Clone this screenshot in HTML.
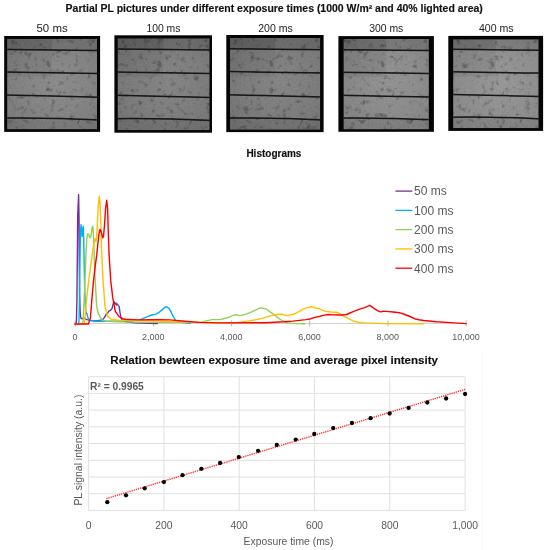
<!DOCTYPE html>
<html lang="en"><head><meta charset="utf-8"><title>PL exposure figure</title>
<style>html,body{margin:0;padding:0;background:#fff;}svg{display:block;}text{font-family:"Liberation Sans", sans-serif;}</style>
</head><body>
<svg width="548" height="550" viewBox="0 0 548 550">
<defs>
<radialGradient id="pg" cx="0.5" cy="0.5" r="0.75"><stop offset="0" stop-color="#979797"/><stop offset="0.55" stop-color="#8b8b8b"/><stop offset="1" stop-color="#7a7a7a"/></radialGradient>
<filter id="bl" x="-5%" y="-5%" width="110%" height="110%"><feGaussianBlur stdDeviation="0.7"/></filter>
<filter id="bl2" x="-5%" y="-20%" width="110%" height="140%"><feGaussianBlur stdDeviation="0.45"/></filter>
<filter id="grain" x="0" y="0" width="100%" height="100%"><feTurbulence type="fractalNoise" baseFrequency="0.16" numOctaves="3" seed="5" result="n"/><feColorMatrix type="matrix" values="0 0 0 0 0  0 0 0 0 0  0 0 0 0 0  3.4 0 0 0 -2.02"/><feGaussianBlur stdDeviation="0.4"/></filter>
<filter id="grain2" x="0" y="0" width="100%" height="100%"><feTurbulence type="fractalNoise" baseFrequency="0.5" numOctaves="2" seed="9" result="n"/><feColorMatrix type="matrix" values="0 0 0 0 0  0 0 0 0 0  0 0 0 0 0  1.2 0 0 0 -0.45"/></filter>
</defs>
<rect width="548" height="550" fill="#fff"/>
<text x="65.6" y="11.5" font-size="10.2" font-weight="bold" fill="#111" stroke="#111" stroke-width="0.15" textLength="417.2" lengthAdjust="spacingAndGlyphs">Partial PL pictures under different exposure times (1000 W/m² and 40% lighted area)</text>
<text x="36.5" y="31.5" font-size="11.2" fill="#222" textLength="31.2" lengthAdjust="spacingAndGlyphs">50 ms</text>
<radialGradient id="pg0" cx="0.56" cy="0.47" r="0.72"><stop offset="0" stop-color="#8e8e8e"/><stop offset="0.55" stop-color="#868686"/><stop offset="1" stop-color="#7c7c7c"/></radialGradient>
<g>
<rect x="4.2" y="36.0" width="95.9" height="95.9" fill="#050505"/>
<clipPath id="c0"><rect x="7.1" y="38.7" width="89.9" height="90.7"/></clipPath>
<g clip-path="url(#c0)">
<rect x="7.1" y="38.7" width="89.9" height="90.7" fill="url(#pg0)"/>
<rect x="7.1" y="38.7" width="89.9" height="11.4" fill="#000" opacity="0.12"/>
<rect x="7.1" y="38.7" width="44.9" height="11.4" fill="#000" opacity="0.045"/>
<rect x="7.1" y="118.3" width="89.9" height="14.4" fill="#000" opacity="0.06"/>
<rect x="7.1" y="38.7" width="44.9" height="38.1" fill="#000" opacity="0.05"/>
<g filter="url(#bl)" fill="#3c3c3c">
<ellipse cx="47.8" cy="89.5" rx="1.6" ry="2.1" opacity="0.30" transform="rotate(70 47.8 89.5)"/>
<ellipse cx="24.2" cy="111.6" rx="1.1" ry="2.5" opacity="0.21" transform="rotate(34 24.2 111.6)"/>
<ellipse cx="34.4" cy="46.9" rx="1.5" ry="2.7" opacity="0.16" transform="rotate(21 34.4 46.9)"/>
<ellipse cx="93.8" cy="98.0" rx="1.2" ry="1.3" opacity="0.15" transform="rotate(55 93.8 98.0)"/>
<ellipse cx="12.8" cy="41.9" rx="1.6" ry="2.5" opacity="0.38" transform="rotate(3 12.8 41.9)"/>
<ellipse cx="46.7" cy="115.1" rx="1.1" ry="2.6" opacity="0.30" transform="rotate(-59 46.7 115.1)"/>
<ellipse cx="48.2" cy="63.9" rx="1.7" ry="3.5" opacity="0.40" transform="rotate(-15 48.2 63.9)"/>
<ellipse cx="35.4" cy="59.5" rx="0.8" ry="1.1" opacity="0.38" transform="rotate(22 35.4 59.5)"/>
<ellipse cx="16.8" cy="65.1" rx="0.6" ry="0.9" opacity="0.36" transform="rotate(-26 16.8 65.1)"/>
<ellipse cx="26.0" cy="121.3" rx="1.1" ry="3.4" opacity="0.27" transform="rotate(-62 26.0 121.3)"/>
<ellipse cx="58.0" cy="56.7" rx="1.3" ry="1.8" opacity="0.24" transform="rotate(-77 58.0 56.7)"/>
<ellipse cx="93.8" cy="107.5" rx="0.6" ry="1.5" opacity="0.18" transform="rotate(-65 93.8 107.5)"/>
<ellipse cx="48.9" cy="82.9" rx="1.3" ry="1.4" opacity="0.30" transform="rotate(-47 48.9 82.9)"/>
<ellipse cx="44.8" cy="73.5" rx="1.0" ry="3.5" opacity="0.15" transform="rotate(71 44.8 73.5)"/>
<ellipse cx="34.4" cy="119.0" rx="0.8" ry="1.9" opacity="0.41" transform="rotate(67 34.4 119.0)"/>
<ellipse cx="16.1" cy="128.4" rx="0.8" ry="1.6" opacity="0.38" transform="rotate(4 16.1 128.4)"/>
<ellipse cx="81.7" cy="73.7" rx="0.6" ry="1.4" opacity="0.34" transform="rotate(-77 81.7 73.7)"/>
<ellipse cx="61.2" cy="72.4" rx="1.0" ry="3.4" opacity="0.30" transform="rotate(67 61.2 72.4)"/>
<ellipse cx="19.3" cy="73.7" rx="1.3" ry="1.7" opacity="0.22" transform="rotate(76 19.3 73.7)"/>
<ellipse cx="29.5" cy="55.9" rx="1.4" ry="3.3" opacity="0.21" transform="rotate(19 29.5 55.9)"/>
<ellipse cx="86.4" cy="93.4" rx="1.0" ry="1.2" opacity="0.16" transform="rotate(-15 86.4 93.4)"/>
<ellipse cx="28.5" cy="102.6" rx="0.8" ry="3.0" opacity="0.33" transform="rotate(-5 28.5 102.6)"/>
<ellipse cx="53.9" cy="123.0" rx="1.7" ry="1.2" opacity="0.29" transform="rotate(77 53.9 123.0)"/>
<ellipse cx="62.3" cy="64.1" rx="1.6" ry="1.4" opacity="0.15" transform="rotate(-12 62.3 64.1)"/>
<ellipse cx="44.1" cy="61.3" rx="0.6" ry="1.6" opacity="0.31" transform="rotate(-47 44.1 61.3)"/>
<ellipse cx="15.4" cy="51.3" rx="1.0" ry="1.8" opacity="0.37" transform="rotate(53 15.4 51.3)"/>
<ellipse cx="59.6" cy="51.4" rx="0.5" ry="0.9" opacity="0.42" transform="rotate(-1 59.6 51.4)"/>
<ellipse cx="93.7" cy="40.6" rx="1.3" ry="2.2" opacity="0.37" transform="rotate(1 93.7 40.6)"/>
<ellipse cx="19.4" cy="45.3" rx="1.0" ry="1.9" opacity="0.16" transform="rotate(-47 19.4 45.3)"/>
<ellipse cx="78.4" cy="121.7" rx="0.9" ry="2.7" opacity="0.42" transform="rotate(26 78.4 121.7)"/>
<ellipse cx="92.0" cy="41.4" rx="1.1" ry="0.9" opacity="0.35" transform="rotate(17 92.0 41.4)"/>
<ellipse cx="59.5" cy="93.9" rx="0.6" ry="2.6" opacity="0.45" transform="rotate(26 59.5 93.9)"/>
<ellipse cx="72.6" cy="73.9" rx="1.4" ry="2.4" opacity="0.28" transform="rotate(58 72.6 73.9)"/>
<ellipse cx="14.6" cy="106.7" rx="0.5" ry="2.5" opacity="0.29" transform="rotate(-22 14.6 106.7)"/>
</g>
<rect x="7.1" y="38.7" width="89.9" height="90.7" filter="url(#grain)" opacity="0.28"/>
<rect x="7.1" y="38.7" width="89.9" height="90.7" filter="url(#grain2)" opacity="0.12"/>
<g fill="none" stroke="#141414" stroke-width="1.5" filter="url(#bl2)">
<path d="M4.2,49.5 Q52.1,50.1 100.1,50.6"/>
<path d="M4.2,72.1 Q52.1,73.0 100.1,73.6"/>
<path d="M4.2,95.1 Q52.1,95.9 100.1,97.2"/>
<path d="M4.2,118.1 Q52.1,117.5 100.1,120.0"/>
</g>
</g></g>
<text x="146.4" y="31.5" font-size="10.2" fill="#222" textLength="34.0" lengthAdjust="spacingAndGlyphs">100 ms</text>
<radialGradient id="pg1" cx="0.56" cy="0.47" r="0.72"><stop offset="0" stop-color="#888888"/><stop offset="0.55" stop-color="#7f7f7f"/><stop offset="1" stop-color="#757575"/></radialGradient>
<g>
<rect x="114.4" y="35.3" width="97.6" height="97.4" fill="#050505"/>
<clipPath id="c1"><rect x="117.5" y="38.3" width="92.2" height="92.0"/></clipPath>
<g clip-path="url(#c1)">
<rect x="117.5" y="38.3" width="92.2" height="92.0" fill="url(#pg1)"/>
<rect x="117.5" y="38.3" width="92.2" height="11.3" fill="#000" opacity="0.12"/>
<rect x="117.5" y="38.3" width="46.1" height="11.3" fill="#000" opacity="0.045"/>
<rect x="117.5" y="118.9" width="92.2" height="14.6" fill="#000" opacity="0.06"/>
<rect x="117.5" y="38.3" width="46.1" height="38.6" fill="#000" opacity="0.05"/>
<g filter="url(#bl)" fill="#3c3c3c">
<ellipse cx="159.2" cy="89.8" rx="1.6" ry="2.1" opacity="0.30" transform="rotate(70 159.2 89.8)"/>
<ellipse cx="135.0" cy="112.3" rx="1.1" ry="2.5" opacity="0.21" transform="rotate(34 135.0 112.3)"/>
<ellipse cx="145.5" cy="46.6" rx="1.5" ry="2.7" opacity="0.16" transform="rotate(21 145.5 46.6)"/>
<ellipse cx="206.5" cy="98.5" rx="1.2" ry="1.3" opacity="0.15" transform="rotate(55 206.5 98.5)"/>
<ellipse cx="123.3" cy="41.6" rx="1.6" ry="2.5" opacity="0.38" transform="rotate(3 123.3 41.6)"/>
<ellipse cx="158.1" cy="115.8" rx="1.1" ry="2.6" opacity="0.30" transform="rotate(-59 158.1 115.8)"/>
<ellipse cx="159.7" cy="63.9" rx="1.7" ry="3.5" opacity="0.40" transform="rotate(-15 159.7 63.9)"/>
<ellipse cx="146.6" cy="59.4" rx="0.8" ry="1.1" opacity="0.38" transform="rotate(22 146.6 59.4)"/>
<ellipse cx="127.4" cy="65.1" rx="0.6" ry="0.9" opacity="0.36" transform="rotate(-26 127.4 65.1)"/>
<ellipse cx="136.8" cy="122.0" rx="1.1" ry="3.4" opacity="0.27" transform="rotate(-62 136.8 122.0)"/>
<ellipse cx="169.7" cy="56.6" rx="1.3" ry="1.8" opacity="0.24" transform="rotate(-77 169.7 56.6)"/>
<ellipse cx="206.4" cy="108.0" rx="0.6" ry="1.5" opacity="0.18" transform="rotate(-65 206.4 108.0)"/>
<ellipse cx="160.4" cy="83.1" rx="1.3" ry="1.4" opacity="0.30" transform="rotate(-47 160.4 83.1)"/>
<ellipse cx="156.2" cy="73.6" rx="1.0" ry="3.5" opacity="0.15" transform="rotate(71 156.2 73.6)"/>
<ellipse cx="145.5" cy="119.7" rx="0.8" ry="1.9" opacity="0.41" transform="rotate(67 145.5 119.7)"/>
<ellipse cx="126.8" cy="129.3" rx="0.8" ry="1.6" opacity="0.38" transform="rotate(4 126.8 129.3)"/>
<ellipse cx="194.1" cy="73.8" rx="0.6" ry="1.4" opacity="0.34" transform="rotate(-77 194.1 73.8)"/>
<ellipse cx="172.9" cy="72.5" rx="1.0" ry="3.4" opacity="0.30" transform="rotate(67 172.9 72.5)"/>
<ellipse cx="130.0" cy="73.8" rx="1.3" ry="1.7" opacity="0.22" transform="rotate(76 130.0 73.8)"/>
<ellipse cx="140.5" cy="55.8" rx="1.4" ry="3.3" opacity="0.21" transform="rotate(19 140.5 55.8)"/>
<ellipse cx="198.8" cy="93.8" rx="1.0" ry="1.2" opacity="0.16" transform="rotate(-15 198.8 93.8)"/>
<ellipse cx="139.5" cy="103.1" rx="0.8" ry="3.0" opacity="0.33" transform="rotate(-5 139.5 103.1)"/>
<ellipse cx="165.5" cy="123.8" rx="1.7" ry="1.2" opacity="0.29" transform="rotate(77 165.5 123.8)"/>
<ellipse cx="174.1" cy="64.1" rx="1.6" ry="1.4" opacity="0.15" transform="rotate(-12 174.1 64.1)"/>
<ellipse cx="155.4" cy="61.2" rx="0.6" ry="1.6" opacity="0.31" transform="rotate(-47 155.4 61.2)"/>
<ellipse cx="126.0" cy="51.0" rx="1.0" ry="1.8" opacity="0.37" transform="rotate(53 126.0 51.0)"/>
<ellipse cx="171.4" cy="51.2" rx="0.5" ry="0.9" opacity="0.42" transform="rotate(-1 171.4 51.2)"/>
<ellipse cx="206.3" cy="40.3" rx="1.3" ry="2.2" opacity="0.37" transform="rotate(1 206.3 40.3)"/>
<ellipse cx="130.1" cy="45.0" rx="1.0" ry="1.9" opacity="0.16" transform="rotate(-47 130.1 45.0)"/>
<ellipse cx="190.6" cy="122.5" rx="0.9" ry="2.7" opacity="0.42" transform="rotate(26 190.6 122.5)"/>
<ellipse cx="204.6" cy="41.1" rx="1.1" ry="0.9" opacity="0.35" transform="rotate(17 204.6 41.1)"/>
<ellipse cx="171.2" cy="94.3" rx="0.6" ry="2.6" opacity="0.45" transform="rotate(26 171.2 94.3)"/>
<ellipse cx="184.6" cy="74.0" rx="1.4" ry="2.4" opacity="0.28" transform="rotate(58 184.6 74.0)"/>
<ellipse cx="125.2" cy="107.3" rx="0.5" ry="2.5" opacity="0.29" transform="rotate(-22 125.2 107.3)"/>
</g>
<rect x="117.5" y="38.3" width="92.2" height="92.0" filter="url(#grain)" opacity="0.28"/>
<rect x="117.5" y="38.3" width="92.2" height="92.0" filter="url(#grain2)" opacity="0.12"/>
<g fill="none" stroke="#141414" stroke-width="1.5" filter="url(#bl2)">
<path d="M114.4,49.0 Q163.2,49.7 212.0,50.1"/>
<path d="M114.4,71.9 Q163.2,72.9 212.0,73.5"/>
<path d="M114.4,95.3 Q163.2,96.2 212.0,97.4"/>
<path d="M114.4,118.7 Q163.2,118.1 212.0,120.6"/>
</g>
</g></g>
<text x="258.2" y="31.5" font-size="10.2" fill="#222" textLength="34.5" lengthAdjust="spacingAndGlyphs">200 ms</text>
<radialGradient id="pg2" cx="0.56" cy="0.47" r="0.72"><stop offset="0" stop-color="#888888"/><stop offset="0.55" stop-color="#7f7f7f"/><stop offset="1" stop-color="#757575"/></radialGradient>
<g>
<rect x="226.3" y="35.0" width="97.3" height="97.1" fill="#050505"/>
<clipPath id="c2"><rect x="229.9" y="38.0" width="90.4" height="91.8"/></clipPath>
<g clip-path="url(#c2)">
<rect x="229.9" y="38.0" width="90.4" height="91.8" fill="url(#pg2)"/>
<rect x="229.9" y="38.0" width="90.4" height="11.3" fill="#000" opacity="0.12"/>
<rect x="229.9" y="38.0" width="45.2" height="11.3" fill="#000" opacity="0.045"/>
<rect x="229.9" y="118.3" width="90.4" height="14.6" fill="#000" opacity="0.06"/>
<rect x="229.9" y="38.0" width="45.2" height="38.6" fill="#000" opacity="0.05"/>
<g filter="url(#bl)" fill="#3c3c3c">
<ellipse cx="270.8" cy="89.4" rx="1.6" ry="2.1" opacity="0.30" transform="rotate(70 270.8 89.4)"/>
<ellipse cx="247.1" cy="111.8" rx="1.1" ry="2.5" opacity="0.21" transform="rotate(34 247.1 111.8)"/>
<ellipse cx="257.3" cy="46.3" rx="1.5" ry="2.7" opacity="0.16" transform="rotate(21 257.3 46.3)"/>
<ellipse cx="317.1" cy="98.0" rx="1.2" ry="1.3" opacity="0.15" transform="rotate(55 317.1 98.0)"/>
<ellipse cx="235.6" cy="41.3" rx="1.6" ry="2.5" opacity="0.38" transform="rotate(3 235.6 41.3)"/>
<ellipse cx="269.7" cy="115.3" rx="1.1" ry="2.6" opacity="0.30" transform="rotate(-59 269.7 115.3)"/>
<ellipse cx="271.2" cy="63.5" rx="1.7" ry="3.5" opacity="0.40" transform="rotate(-15 271.2 63.5)"/>
<ellipse cx="258.4" cy="59.1" rx="0.8" ry="1.1" opacity="0.38" transform="rotate(22 258.4 59.1)"/>
<ellipse cx="239.6" cy="64.7" rx="0.6" ry="0.9" opacity="0.36" transform="rotate(-26 239.6 64.7)"/>
<ellipse cx="248.9" cy="121.6" rx="1.1" ry="3.4" opacity="0.27" transform="rotate(-62 248.9 121.6)"/>
<ellipse cx="281.1" cy="56.2" rx="1.3" ry="1.8" opacity="0.24" transform="rotate(-77 281.1 56.2)"/>
<ellipse cx="317.1" cy="107.6" rx="0.6" ry="1.5" opacity="0.18" transform="rotate(-65 317.1 107.6)"/>
<ellipse cx="271.9" cy="82.7" rx="1.3" ry="1.4" opacity="0.30" transform="rotate(-47 271.9 82.7)"/>
<ellipse cx="267.8" cy="73.2" rx="1.0" ry="3.5" opacity="0.15" transform="rotate(71 267.8 73.2)"/>
<ellipse cx="257.4" cy="119.2" rx="0.8" ry="1.9" opacity="0.41" transform="rotate(67 257.4 119.2)"/>
<ellipse cx="239.0" cy="128.8" rx="0.8" ry="1.6" opacity="0.38" transform="rotate(4 239.0 128.8)"/>
<ellipse cx="305.0" cy="73.5" rx="0.6" ry="1.4" opacity="0.34" transform="rotate(-77 305.0 73.5)"/>
<ellipse cx="284.3" cy="72.1" rx="1.0" ry="3.4" opacity="0.30" transform="rotate(67 284.3 72.1)"/>
<ellipse cx="242.2" cy="73.4" rx="1.3" ry="1.7" opacity="0.22" transform="rotate(76 242.2 73.4)"/>
<ellipse cx="252.5" cy="55.4" rx="1.4" ry="3.3" opacity="0.21" transform="rotate(19 252.5 55.4)"/>
<ellipse cx="309.6" cy="93.4" rx="1.0" ry="1.2" opacity="0.16" transform="rotate(-15 309.6 93.4)"/>
<ellipse cx="251.5" cy="102.7" rx="0.8" ry="3.0" opacity="0.33" transform="rotate(-5 251.5 102.7)"/>
<ellipse cx="276.9" cy="123.3" rx="1.7" ry="1.2" opacity="0.29" transform="rotate(77 276.9 123.3)"/>
<ellipse cx="285.4" cy="63.7" rx="1.6" ry="1.4" opacity="0.15" transform="rotate(-12 285.4 63.7)"/>
<ellipse cx="267.1" cy="60.9" rx="0.6" ry="1.6" opacity="0.31" transform="rotate(-47 267.1 60.9)"/>
<ellipse cx="238.2" cy="50.7" rx="1.0" ry="1.8" opacity="0.37" transform="rotate(53 238.2 50.7)"/>
<ellipse cx="282.7" cy="50.9" rx="0.5" ry="0.9" opacity="0.42" transform="rotate(-1 282.7 50.9)"/>
<ellipse cx="316.9" cy="40.0" rx="1.3" ry="2.2" opacity="0.37" transform="rotate(1 316.9 40.0)"/>
<ellipse cx="242.2" cy="44.6" rx="1.0" ry="1.9" opacity="0.16" transform="rotate(-47 242.2 44.6)"/>
<ellipse cx="301.6" cy="122.0" rx="0.9" ry="2.7" opacity="0.42" transform="rotate(26 301.6 122.0)"/>
<ellipse cx="315.3" cy="40.8" rx="1.1" ry="0.9" opacity="0.35" transform="rotate(17 315.3 40.8)"/>
<ellipse cx="282.6" cy="93.9" rx="0.6" ry="2.6" opacity="0.45" transform="rotate(26 282.6 93.9)"/>
<ellipse cx="295.7" cy="73.7" rx="1.4" ry="2.4" opacity="0.28" transform="rotate(58 295.7 73.7)"/>
<ellipse cx="237.5" cy="106.9" rx="0.5" ry="2.5" opacity="0.29" transform="rotate(-22 237.5 106.9)"/>
</g>
<rect x="229.9" y="38.0" width="90.4" height="91.8" filter="url(#grain)" opacity="0.28"/>
<rect x="229.9" y="38.0" width="90.4" height="91.8" filter="url(#grain2)" opacity="0.12"/>
<g fill="none" stroke="#141414" stroke-width="1.5" filter="url(#bl2)">
<path d="M226.3,48.7 Q275.0,49.3 323.6,49.8"/>
<path d="M226.3,71.5 Q275.0,72.5 323.6,73.1"/>
<path d="M226.3,94.8 Q275.0,95.7 323.6,96.9"/>
<path d="M226.3,118.1 Q275.0,117.5 323.6,120.1"/>
</g>
</g></g>
<text x="369.2" y="31.5" font-size="10.2" fill="#222" textLength="34.1" lengthAdjust="spacingAndGlyphs">300 ms</text>
<radialGradient id="pg3" cx="0.56" cy="0.47" r="0.72"><stop offset="0" stop-color="#969696"/><stop offset="0.55" stop-color="#8d8d8d"/><stop offset="1" stop-color="#848484"/></radialGradient>
<g>
<rect x="338.4" y="36.1" width="95.5" height="95.7" fill="#050505"/>
<clipPath id="c3"><rect x="343.4" y="38.9" width="85.5" height="90.6"/></clipPath>
<g clip-path="url(#c3)">
<rect x="343.4" y="38.9" width="85.5" height="90.6" fill="url(#pg3)"/>
<rect x="343.4" y="38.9" width="85.5" height="11.3" fill="#000" opacity="0.12"/>
<rect x="343.4" y="38.9" width="42.8" height="11.3" fill="#000" opacity="0.045"/>
<rect x="343.4" y="118.2" width="85.5" height="14.4" fill="#000" opacity="0.06"/>
<rect x="343.4" y="38.9" width="42.8" height="38.1" fill="#000" opacity="0.05"/>
<g filter="url(#bl)" fill="#3c3c3c">
<ellipse cx="382.1" cy="89.6" rx="1.6" ry="2.1" opacity="0.30" transform="rotate(70 382.1 89.6)"/>
<ellipse cx="359.6" cy="111.7" rx="1.1" ry="2.5" opacity="0.21" transform="rotate(34 359.6 111.7)"/>
<ellipse cx="369.3" cy="47.1" rx="1.5" ry="2.7" opacity="0.16" transform="rotate(21 369.3 47.1)"/>
<ellipse cx="425.9" cy="98.1" rx="1.2" ry="1.3" opacity="0.15" transform="rotate(55 425.9 98.1)"/>
<ellipse cx="348.8" cy="42.1" rx="1.6" ry="2.5" opacity="0.38" transform="rotate(3 348.8 42.1)"/>
<ellipse cx="381.1" cy="115.2" rx="1.1" ry="2.6" opacity="0.30" transform="rotate(-59 381.1 115.2)"/>
<ellipse cx="382.5" cy="64.1" rx="1.7" ry="3.5" opacity="0.40" transform="rotate(-15 382.5 64.1)"/>
<ellipse cx="370.4" cy="59.7" rx="0.8" ry="1.1" opacity="0.38" transform="rotate(22 370.4 59.7)"/>
<ellipse cx="352.6" cy="65.3" rx="0.6" ry="0.9" opacity="0.36" transform="rotate(-26 352.6 65.3)"/>
<ellipse cx="361.3" cy="121.4" rx="1.1" ry="3.4" opacity="0.27" transform="rotate(-62 361.3 121.4)"/>
<ellipse cx="391.8" cy="56.9" rx="1.3" ry="1.8" opacity="0.24" transform="rotate(-77 391.8 56.9)"/>
<ellipse cx="425.8" cy="107.6" rx="0.6" ry="1.5" opacity="0.18" transform="rotate(-65 425.8 107.6)"/>
<ellipse cx="383.2" cy="83.0" rx="1.3" ry="1.4" opacity="0.30" transform="rotate(-47 383.2 83.0)"/>
<ellipse cx="379.2" cy="73.7" rx="1.0" ry="3.5" opacity="0.15" transform="rotate(71 379.2 73.7)"/>
<ellipse cx="369.4" cy="119.1" rx="0.8" ry="1.9" opacity="0.41" transform="rotate(67 369.4 119.1)"/>
<ellipse cx="352.0" cy="128.5" rx="0.8" ry="1.6" opacity="0.38" transform="rotate(4 352.0 128.5)"/>
<ellipse cx="414.4" cy="73.9" rx="0.6" ry="1.4" opacity="0.34" transform="rotate(-77 414.4 73.9)"/>
<ellipse cx="394.8" cy="72.6" rx="1.0" ry="3.4" opacity="0.30" transform="rotate(67 394.8 72.6)"/>
<ellipse cx="355.0" cy="73.9" rx="1.3" ry="1.7" opacity="0.22" transform="rotate(76 355.0 73.9)"/>
<ellipse cx="364.7" cy="56.1" rx="1.4" ry="3.3" opacity="0.21" transform="rotate(19 364.7 56.1)"/>
<ellipse cx="418.8" cy="93.6" rx="1.0" ry="1.2" opacity="0.16" transform="rotate(-15 418.8 93.6)"/>
<ellipse cx="363.8" cy="102.7" rx="0.8" ry="3.0" opacity="0.33" transform="rotate(-5 363.8 102.7)"/>
<ellipse cx="387.9" cy="123.1" rx="1.7" ry="1.2" opacity="0.29" transform="rotate(77 387.9 123.1)"/>
<ellipse cx="395.9" cy="64.3" rx="1.6" ry="1.4" opacity="0.15" transform="rotate(-12 395.9 64.3)"/>
<ellipse cx="378.6" cy="61.5" rx="0.6" ry="1.6" opacity="0.31" transform="rotate(-47 378.6 61.5)"/>
<ellipse cx="351.3" cy="51.4" rx="1.0" ry="1.8" opacity="0.37" transform="rotate(53 351.3 51.4)"/>
<ellipse cx="393.4" cy="51.6" rx="0.5" ry="0.9" opacity="0.42" transform="rotate(-1 393.4 51.6)"/>
<ellipse cx="425.7" cy="40.8" rx="1.3" ry="2.2" opacity="0.37" transform="rotate(1 425.7 40.8)"/>
<ellipse cx="355.1" cy="45.5" rx="1.0" ry="1.9" opacity="0.16" transform="rotate(-47 355.1 45.5)"/>
<ellipse cx="411.2" cy="121.8" rx="0.9" ry="2.7" opacity="0.42" transform="rotate(26 411.2 121.8)"/>
<ellipse cx="424.1" cy="41.6" rx="1.1" ry="0.9" opacity="0.35" transform="rotate(17 424.1 41.6)"/>
<ellipse cx="393.2" cy="94.1" rx="0.6" ry="2.6" opacity="0.45" transform="rotate(26 393.2 94.1)"/>
<ellipse cx="405.7" cy="74.1" rx="1.4" ry="2.4" opacity="0.28" transform="rotate(58 405.7 74.1)"/>
<ellipse cx="350.6" cy="106.9" rx="0.5" ry="2.5" opacity="0.29" transform="rotate(-22 350.6 106.9)"/>
</g>
<rect x="343.4" y="38.9" width="85.5" height="90.6" filter="url(#grain)" opacity="0.28"/>
<rect x="343.4" y="38.9" width="85.5" height="90.6" filter="url(#grain2)" opacity="0.12"/>
<g fill="none" stroke="#141414" stroke-width="1.5" filter="url(#bl2)">
<path d="M338.4,49.6 Q386.1,50.2 433.9,50.6"/>
<path d="M338.4,72.1 Q386.1,73.0 433.9,73.6"/>
<path d="M338.4,95.1 Q386.1,95.9 433.9,97.2"/>
<path d="M338.4,118.0 Q386.1,117.4 433.9,119.9"/>
</g>
</g></g>
<text x="478.9" y="31.5" font-size="10.2" fill="#222" textLength="34.8" lengthAdjust="spacingAndGlyphs">400 ms</text>
<radialGradient id="pg4" cx="0.56" cy="0.47" r="0.72"><stop offset="0" stop-color="#9a9a9a"/><stop offset="0.55" stop-color="#929292"/><stop offset="1" stop-color="#8a8a8a"/></radialGradient>
<g>
<rect x="448.3" y="35.9" width="94.8" height="95.0" fill="#050505"/>
<clipPath id="c4"><rect x="453.1" y="39.3" width="85.6" height="89.0"/></clipPath>
<g clip-path="url(#c4)">
<rect x="453.1" y="39.3" width="85.6" height="89.0" fill="url(#pg4)"/>
<rect x="453.1" y="39.3" width="85.6" height="10.6" fill="#000" opacity="0.12"/>
<rect x="453.1" y="39.3" width="42.8" height="10.6" fill="#000" opacity="0.045"/>
<rect x="453.1" y="117.4" width="85.6" height="14.2" fill="#000" opacity="0.06"/>
<rect x="453.1" y="39.3" width="42.8" height="37.4" fill="#000" opacity="0.05"/>
<g filter="url(#bl)" fill="#3c3c3c">
<ellipse cx="491.8" cy="89.1" rx="1.6" ry="2.1" opacity="0.30" transform="rotate(70 491.8 89.1)"/>
<ellipse cx="469.4" cy="110.8" rx="1.1" ry="2.5" opacity="0.21" transform="rotate(34 469.4 110.8)"/>
<ellipse cx="479.1" cy="47.4" rx="1.5" ry="2.7" opacity="0.16" transform="rotate(21 479.1 47.4)"/>
<ellipse cx="535.7" cy="97.5" rx="1.2" ry="1.3" opacity="0.15" transform="rotate(55 535.7 97.5)"/>
<ellipse cx="458.5" cy="42.5" rx="1.6" ry="2.5" opacity="0.38" transform="rotate(3 458.5 42.5)"/>
<ellipse cx="490.8" cy="114.3" rx="1.1" ry="2.6" opacity="0.30" transform="rotate(-59 490.8 114.3)"/>
<ellipse cx="492.2" cy="64.1" rx="1.7" ry="3.5" opacity="0.40" transform="rotate(-15 492.2 64.1)"/>
<ellipse cx="480.1" cy="59.7" rx="0.8" ry="1.1" opacity="0.38" transform="rotate(22 480.1 59.7)"/>
<ellipse cx="462.3" cy="65.2" rx="0.6" ry="0.9" opacity="0.36" transform="rotate(-26 462.3 65.2)"/>
<ellipse cx="471.1" cy="120.3" rx="1.1" ry="3.4" opacity="0.27" transform="rotate(-62 471.1 120.3)"/>
<ellipse cx="501.6" cy="57.0" rx="1.3" ry="1.8" opacity="0.24" transform="rotate(-77 501.6 57.0)"/>
<ellipse cx="535.6" cy="106.8" rx="0.6" ry="1.5" opacity="0.18" transform="rotate(-65 535.6 106.8)"/>
<ellipse cx="492.9" cy="82.6" rx="1.3" ry="1.4" opacity="0.30" transform="rotate(-47 492.9 82.6)"/>
<ellipse cx="489.0" cy="73.5" rx="1.0" ry="3.5" opacity="0.15" transform="rotate(71 489.0 73.5)"/>
<ellipse cx="479.1" cy="118.1" rx="0.8" ry="1.9" opacity="0.41" transform="rotate(67 479.1 118.1)"/>
<ellipse cx="461.7" cy="127.3" rx="0.8" ry="1.6" opacity="0.38" transform="rotate(4 461.7 127.3)"/>
<ellipse cx="524.2" cy="73.7" rx="0.6" ry="1.4" opacity="0.34" transform="rotate(-77 524.2 73.7)"/>
<ellipse cx="504.6" cy="72.4" rx="1.0" ry="3.4" opacity="0.30" transform="rotate(67 504.6 72.4)"/>
<ellipse cx="464.7" cy="73.7" rx="1.3" ry="1.7" opacity="0.22" transform="rotate(76 464.7 73.7)"/>
<ellipse cx="474.5" cy="56.2" rx="1.4" ry="3.3" opacity="0.21" transform="rotate(19 474.5 56.2)"/>
<ellipse cx="528.6" cy="93.0" rx="1.0" ry="1.2" opacity="0.16" transform="rotate(-15 528.6 93.0)"/>
<ellipse cx="473.5" cy="102.0" rx="0.8" ry="3.0" opacity="0.33" transform="rotate(-5 473.5 102.0)"/>
<ellipse cx="497.6" cy="122.0" rx="1.7" ry="1.2" opacity="0.29" transform="rotate(77 497.6 122.0)"/>
<ellipse cx="505.7" cy="64.2" rx="1.6" ry="1.4" opacity="0.15" transform="rotate(-12 505.7 64.2)"/>
<ellipse cx="488.3" cy="61.5" rx="0.6" ry="1.6" opacity="0.31" transform="rotate(-47 488.3 61.5)"/>
<ellipse cx="461.0" cy="51.6" rx="1.0" ry="1.8" opacity="0.37" transform="rotate(53 461.0 51.6)"/>
<ellipse cx="503.1" cy="51.8" rx="0.5" ry="0.9" opacity="0.42" transform="rotate(-1 503.1 51.8)"/>
<ellipse cx="535.5" cy="41.2" rx="1.3" ry="2.2" opacity="0.37" transform="rotate(1 535.5 41.2)"/>
<ellipse cx="464.8" cy="45.7" rx="1.0" ry="1.9" opacity="0.16" transform="rotate(-47 464.8 45.7)"/>
<ellipse cx="521.0" cy="120.7" rx="0.9" ry="2.7" opacity="0.42" transform="rotate(26 521.0 120.7)"/>
<ellipse cx="533.9" cy="42.0" rx="1.1" ry="0.9" opacity="0.35" transform="rotate(17 533.9 42.0)"/>
<ellipse cx="503.0" cy="93.5" rx="0.6" ry="2.6" opacity="0.45" transform="rotate(26 503.0 93.5)"/>
<ellipse cx="515.4" cy="73.9" rx="1.4" ry="2.4" opacity="0.28" transform="rotate(58 515.4 73.9)"/>
<ellipse cx="460.3" cy="106.1" rx="0.5" ry="2.5" opacity="0.29" transform="rotate(-22 460.3 106.1)"/>
</g>
<rect x="453.1" y="39.3" width="85.6" height="89.0" filter="url(#grain)" opacity="0.28"/>
<rect x="453.1" y="39.3" width="85.6" height="89.0" filter="url(#grain2)" opacity="0.12"/>
<g fill="none" stroke="#141414" stroke-width="1.5" filter="url(#bl2)">
<path d="M448.3,49.3 Q495.7,49.9 543.1,50.3"/>
<path d="M448.3,71.6 Q495.7,72.6 543.1,73.1"/>
<path d="M448.3,94.4 Q495.7,95.3 543.1,96.5"/>
<path d="M448.3,117.2 Q495.7,116.6 543.1,119.1"/>
</g>
</g></g>
<text x="246.4" y="156.9" font-size="10.4" font-weight="bold" fill="#111" stroke="#111" stroke-width="0.15" textLength="55" lengthAdjust="spacingAndGlyphs">Histograms</text>
<line x1="75" y1="323.45" x2="466.2" y2="323.45" stroke="#d0d0d0" stroke-width="1"/>
<line x1="75.2" y1="320.4" x2="75.2" y2="326.4" stroke="#bdbdbd" stroke-width="1.1"/>
<text x="75" y="339.9" font-size="9.6" fill="#595959" text-anchor="middle" textLength="5.0" lengthAdjust="spacingAndGlyphs">0</text>
<line x1="153.5" y1="320.4" x2="153.5" y2="326.4" stroke="#bdbdbd" stroke-width="1.1"/>
<text x="153.3" y="339.9" font-size="9.6" fill="#595959" text-anchor="middle" textLength="22.5" lengthAdjust="spacingAndGlyphs">2,000</text>
<line x1="231.5" y1="320.4" x2="231.5" y2="326.4" stroke="#bdbdbd" stroke-width="1.1"/>
<text x="231.3" y="339.9" font-size="9.6" fill="#595959" text-anchor="middle" textLength="22.5" lengthAdjust="spacingAndGlyphs">4,000</text>
<line x1="309.6" y1="320.4" x2="309.6" y2="326.4" stroke="#bdbdbd" stroke-width="1.1"/>
<text x="309.4" y="339.9" font-size="9.6" fill="#595959" text-anchor="middle" textLength="22.5" lengthAdjust="spacingAndGlyphs">6,000</text>
<line x1="388.0" y1="320.4" x2="388.0" y2="326.4" stroke="#bdbdbd" stroke-width="1.1"/>
<text x="387.8" y="339.9" font-size="9.6" fill="#595959" text-anchor="middle" textLength="22.5" lengthAdjust="spacingAndGlyphs">8,000</text>
<line x1="466.2" y1="320.4" x2="466.2" y2="326.4" stroke="#bdbdbd" stroke-width="1.1"/>
<text x="466" y="339.9" font-size="9.6" fill="#595959" text-anchor="middle" textLength="27.5" lengthAdjust="spacingAndGlyphs">10,000</text>
<polyline points="75.0,324.0 76.2,324.0 76.4,321.4 76.9,300.4 77.4,250.4 77.7,215.4 78.1,206.4 78.6,194.6 79.0,215.4 79.3,260.4 79.6,293.4 80.2,312.4 80.8,318.0 82.0,318.9 84.0,318.0 86.0,319.4 90.0,320.4 96.0,320.9 102.5,319.9 104.5,317.4 106.3,314.2 107.5,313.4 108.9,311.0 110.5,310.4 112.1,308.4 113.0,304.4 114.0,301.6 115.0,303.9 115.8,302.9 116.5,304.9 117.2,303.9 118.2,305.4 119.1,306.4 120.0,312.4 121.0,318.0 123.0,320.9 127.0,321.9 135.0,322.9 157.4,323.6" fill="none" stroke="#7030A0" stroke-width="1.4" stroke-linejoin="round" stroke-linecap="round"/>
<polyline points="75.0,324.0 78.7,324.0 78.9,321.9 79.3,310.4 79.8,270.4 80.4,235.4 81.0,224.7 81.6,228.4 82.1,236.4 82.6,230.4 83.3,226.4 83.7,240.4 84.0,255.4 84.6,285.4 85.3,305.4 85.9,311.4 86.4,313.9 86.9,313.4 87.6,316.4 89.0,320.4 95.0,321.2 110.0,321.2 130.0,320.9 138.0,320.4 142.8,318.7 147.0,316.9 151.9,315.0 155.5,314.4 159.2,312.3 162.5,309.4 165.6,306.8 167.5,307.2 169.2,308.6 171.0,311.9 172.9,315.9 175.6,320.5 180.0,322.2 190.2,323.2" fill="none" stroke="#00B0F0" stroke-width="1.4" stroke-linejoin="round" stroke-linecap="round"/>
<polyline points="75.0,324.0 82.4,324.0 82.7,322.4 83.2,320.4 84.5,290.4 85.9,255.4 86.8,238.4 87.8,233.7 88.8,234.4 89.6,236.4 90.4,237.8 91.2,234.4 92.0,228.4 92.7,226.0 93.3,232.4 94.2,255.4 95.2,280.4 96.7,306.4 98.0,312.4 99.3,315.4 101.8,319.9 106.0,321.2 120.0,321.9 160.0,322.4 201.0,322.4 206.0,320.9 212.0,319.6 220.0,319.6 227.3,317.8 232.0,315.9 235.5,314.7 240.0,315.6 245.0,314.4 250.1,312.7 255.0,310.4 260.1,307.9 263.0,308.2 266.5,309.2 270.0,311.9 274.7,315.0 278.0,317.9 282.0,320.5 287.5,322.9 295.0,323.6 304.9,323.8" fill="none" stroke="#92D050" stroke-width="1.4" stroke-linejoin="round" stroke-linecap="round"/>
<polyline points="75.0,324.0 84.0,324.0 84.3,322.4 84.8,320.4 86.0,305.4 87.2,293.4 89.0,278.4 91.6,259.4 93.5,245.4 95.1,238.4 95.9,241.4 96.6,238.4 97.3,225.4 98.3,205.4 99.3,196.3 100.2,205.4 101.0,230.4 101.8,255.4 103.1,280.9 105.0,306.4 107.6,316.1 111.4,319.3 119.0,320.4 130.0,320.4 150.0,320.9 180.0,321.9 220.0,322.7 238.0,322.4 247.4,321.1 256.5,319.6 262.0,318.4 267.4,316.9 271.0,315.6 274.7,315.0 278.5,314.2 282.0,314.1 285.0,315.2 287.5,315.6 290.0,314.9 293.0,314.5 296.5,312.9 300.3,310.8 303.0,309.2 305.8,308.1 309.0,307.4 312.2,306.5 314.5,307.7 316.7,308.3 319.1,308.6 322.0,310.2 325.5,311.4 331.0,312.0 337.4,312.3 340.0,313.6 342.8,315.6 345.5,317.2 348.3,318.7 353.8,321.1 358.0,322.2 364.7,322.9 383.0,323.6 423.7,323.8" fill="none" stroke="#FFC000" stroke-width="1.4" stroke-linejoin="round" stroke-linecap="round"/>
<polyline points="75.0,324.0 88.4,324.0 89.3,321.4 90.4,318.0 91.8,300.4 93.5,280.9 95.3,265.4 96.7,255.4 98.0,242.4 99.0,233.4 99.9,229.4 100.8,230.4 101.8,234.4 102.7,237.8 103.5,236.4 104.5,225.4 105.6,208.4 106.7,200.1 107.6,208.4 108.4,235.4 109.1,255.4 110.8,280.9 112.7,297.4 115.3,311.4 119.1,316.7 124.2,319.3 138.0,319.9 150.0,319.7 160.0,319.6 170.0,319.9 185.0,321.2 199.0,322.4 220.0,322.9 265.6,322.7 283.9,321.8 293.0,321.1 305.8,319.6 310.0,319.0 314.9,317.4 319.1,316.5 323.5,315.4 328.2,314.5 333.0,314.9 337.4,315.0 342.0,315.0 346.5,314.5 350.0,313.0 353.8,311.4 359.0,309.4 364.7,307.7 367.5,306.4 369.9,305.4 372.0,306.9 373.9,308.3 377.0,310.4 380.3,311.9 383.5,311.2 386.6,311.4 393.0,312.0 399.4,312.7 404.9,314.5 410.0,316.5 414.6,318.7 419.0,319.8 423.7,320.5 436.5,321.8 454.7,322.9 466.1,323.6" fill="none" stroke="#FF0000" stroke-width="1.4" stroke-linejoin="round" stroke-linecap="round"/>
<line x1="395.4" y1="191.1" x2="412.3" y2="191.1" stroke="#7030A0" stroke-width="1.3"/>
<text x="414.1" y="195.4" font-size="12" fill="#595959">50 ms</text>
<line x1="395.4" y1="210.4" x2="412.3" y2="210.4" stroke="#00B0F0" stroke-width="1.3"/>
<text x="414.1" y="214.7" font-size="12" fill="#595959">100 ms</text>
<line x1="395.4" y1="229.6" x2="412.3" y2="229.6" stroke="#92D050" stroke-width="1.3"/>
<text x="414.1" y="233.9" font-size="12" fill="#595959">200 ms</text>
<line x1="395.4" y1="248.9" x2="412.3" y2="248.9" stroke="#FFC000" stroke-width="1.3"/>
<text x="414.1" y="253.2" font-size="12" fill="#595959">300 ms</text>
<line x1="395.4" y1="268.2" x2="412.3" y2="268.2" stroke="#FF0000" stroke-width="1.3"/>
<text x="414.1" y="272.5" font-size="12" fill="#595959">400 ms</text>
<text x="110.3" y="364.3" font-size="11.8" font-weight="bold" fill="#111" stroke="#111" stroke-width="0.15" textLength="327.7" lengthAdjust="spacingAndGlyphs">Relation bewteen exposure time and average pixel intensity</text>
<line x1="88.6" y1="376.6" x2="465.1" y2="376.6" stroke="#e0e0e0" stroke-width="1"/>
<line x1="88.6" y1="393.4" x2="465.1" y2="393.4" stroke="#e0e0e0" stroke-width="1"/>
<line x1="88.6" y1="410.1" x2="465.1" y2="410.1" stroke="#e0e0e0" stroke-width="1"/>
<line x1="88.6" y1="426.8" x2="465.1" y2="426.8" stroke="#e0e0e0" stroke-width="1"/>
<line x1="88.6" y1="443.5" x2="465.1" y2="443.5" stroke="#e0e0e0" stroke-width="1"/>
<line x1="88.6" y1="460.3" x2="465.1" y2="460.3" stroke="#e0e0e0" stroke-width="1"/>
<line x1="88.6" y1="477.0" x2="465.1" y2="477.0" stroke="#e0e0e0" stroke-width="1"/>
<line x1="88.6" y1="493.7" x2="465.1" y2="493.7" stroke="#e0e0e0" stroke-width="1"/>
<line x1="88.6" y1="510.4" x2="465.1" y2="510.4" stroke="#e0e0e0" stroke-width="1"/>
<line x1="88.6" y1="376.65" x2="88.6" y2="510.45" stroke="#e0e0e0" stroke-width="1"/>
<line x1="163.9" y1="376.65" x2="163.9" y2="510.45" stroke="#e0e0e0" stroke-width="1"/>
<line x1="239.2" y1="376.65" x2="239.2" y2="510.45" stroke="#e0e0e0" stroke-width="1"/>
<line x1="314.5" y1="376.65" x2="314.5" y2="510.45" stroke="#e0e0e0" stroke-width="1"/>
<line x1="389.8" y1="376.65" x2="389.8" y2="510.45" stroke="#e0e0e0" stroke-width="1"/>
<line x1="465.1" y1="376.65" x2="465.1" y2="510.45" stroke="#e0e0e0" stroke-width="1"/>
<text x="88.6" y="529.4" font-size="10.3" fill="#595959" text-anchor="middle">0</text>
<text x="163.9" y="529.4" font-size="10.3" fill="#595959" text-anchor="middle">200</text>
<text x="239.2" y="529.4" font-size="10.3" fill="#595959" text-anchor="middle">400</text>
<text x="314.5" y="529.4" font-size="10.3" fill="#595959" text-anchor="middle">600</text>
<text x="389.8" y="529.4" font-size="10.3" fill="#595959" text-anchor="middle">800</text>
<text x="465.1" y="529.4" font-size="10.3" fill="#595959" text-anchor="middle">1,000</text>
<text x="243.6" y="545" font-size="10.3" fill="#595959" textLength="89.8" lengthAdjust="spacingAndGlyphs">Exposure time (ms)</text>
<text transform="translate(82.0,505.6) rotate(-90)" font-size="10.2" fill="#595959" textLength="111" lengthAdjust="spacingAndGlyphs">PL signal intensity (a.u.)</text>
<text x="90.1" y="390.2" font-size="10.2" font-weight="bold" fill="#595959" textLength="53.7" lengthAdjust="spacingAndGlyphs">R² = 0.9965</text>
<line x1="106.3" y1="498.6" x2="465.1" y2="389.4" stroke="#ff3030" stroke-width="1.4" stroke-dasharray="1.3,0.9"/>
<circle cx="107.3" cy="502.2" r="2.15" fill="#000"/>
<circle cx="126.0" cy="495.3" r="2.15" fill="#000"/>
<circle cx="144.7" cy="488.3" r="2.15" fill="#000"/>
<circle cx="163.9" cy="482.1" r="2.15" fill="#000"/>
<circle cx="182.5" cy="475.2" r="2.15" fill="#000"/>
<circle cx="201.4" cy="468.8" r="2.15" fill="#000"/>
<circle cx="220.1" cy="463.0" r="2.15" fill="#000"/>
<circle cx="238.8" cy="457.1" r="2.15" fill="#000"/>
<circle cx="258.1" cy="450.8" r="2.15" fill="#000"/>
<circle cx="276.8" cy="444.9" r="2.15" fill="#000"/>
<circle cx="295.7" cy="439.6" r="2.15" fill="#000"/>
<circle cx="314.3" cy="434.0" r="2.15" fill="#000"/>
<circle cx="333.2" cy="428.1" r="2.15" fill="#000"/>
<circle cx="352.0" cy="423.0" r="2.15" fill="#000"/>
<circle cx="370.6" cy="418.2" r="2.15" fill="#000"/>
<circle cx="389.6" cy="413.5" r="2.15" fill="#000"/>
<circle cx="408.6" cy="407.9" r="2.15" fill="#000"/>
<circle cx="427.3" cy="402.5" r="2.15" fill="#000"/>
<circle cx="446.1" cy="398.5" r="2.15" fill="#000"/>
<circle cx="465.1" cy="394.0" r="2.15" fill="#000"/>
<line x1="482.5" y1="354" x2="482.5" y2="550" stroke="#f7f7f7" stroke-width="1"/>
</svg></body></html>
